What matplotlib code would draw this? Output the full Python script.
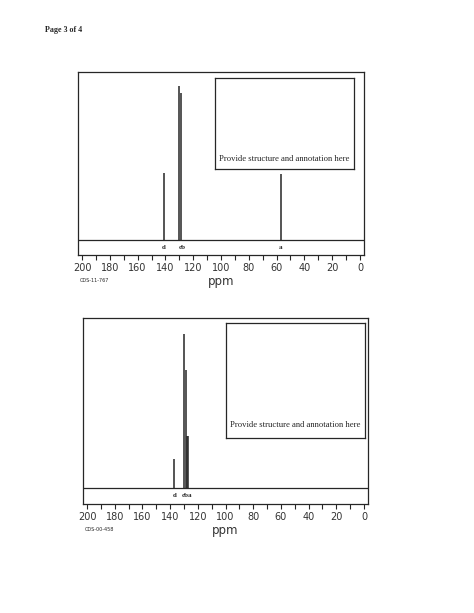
import matplotlib
matplotlib.use('Agg')
import matplotlib.pyplot as plt
import numpy as np

W, H = 474, 613

# spectrum 1 (CDS-11-767)
top_ppm = [140.8, 130.2, 129.0, 57.0]
top_int = [43.5, 100.0, 95.5, 43.0]
top_lab = ['d', 'cb', 'a']
top_lab_ppm = [141.0, 128.0, 57.0]

# spectrum 2 (CDS-00-458)
bot_ppm = [137.2, 130.0, 128.3, 127.9, 127.4]
bot_int = [18.8, 100.0, 76.6, 34.0, 34.0]
bot_lab = ['d', 'cba']
bot_lab_ppm = [137.0, 128.0]

ticks_major = np.arange(0, 201, 20)
ticks_minor = np.arange(0, 201, 10)
ink = '#262626'


def px_axes(fig, left, top, right, bottom):
    return fig.add_axes([left / W, 1 - bottom / H, (right - left) / W, (bottom - top) / H])


def spectrum(fig, box, ppm, inten, labels, lab_ppm, ylim, code, note_box):
    ax = px_axes(fig, *box)
    ax.vlines(ppm, 0, inten, color=ink, lw=1.1)
    ax.axhline(0, color=ink, lw=0.9)
    for s, x in zip(labels, lab_ppm):
        ax.text(x, ylim[0] * 0.5, s, ha='center', va='center', fontsize=5,
                family='Liberation Serif', weight='bold', color=ink)
    ax.set_xlim(202.9, -2.9)
    ax.set_ylim(*ylim)
    ax.set_yticks([])
    ax.set_xticks(ticks_major)
    ax.set_xticks(ticks_minor, minor=True)
    ax.tick_params(axis='x', which='both', direction='out', length=3.5, width=0.8,
                   color=ink, labelsize=7, labelcolor='#333333', pad=2)
    ax.set_xlabel('ppm', fontsize=8.5, color='#333333', labelpad=2)
    for sp in ax.spines.values():
        sp.set_color(ink)
        sp.set_linewidth(0.9)
    ax.text(0.005, -0.125, code, transform=ax.transAxes, fontsize=3.5, color=ink,
            family='DejaVu Sans', va='top')

    nb = px_axes(fig, *note_box)
    nb.set_xticks([])
    nb.set_yticks([])
    for sp in nb.spines.values():
        sp.set_color(ink)
        sp.set_linewidth(0.9)
    nb.text(0.5, 0.11, 'Provide structure and annotation here', transform=nb.transAxes,
            ha='center', va='center', fontsize=6.2, family='Liberation Serif', color=ink)


fig = plt.figure(figsize=(W / 100, H / 100), dpi=100)
fig.text(45 / W, 1 - 30 / H, 'Page 3 of 4', fontsize=5.8, family='Liberation Serif',
         weight='bold', color=ink, va='center')

spectrum(fig, (78, 72, 364, 255), top_ppm, top_int, top_lab, top_lab_ppm,
         (-9.7, 109.0), 'CDS-11-767', (215, 78, 354, 169))
spectrum(fig, (83, 318, 368, 504), bot_ppm, bot_int, bot_lab, bot_lab_ppm,
         (-10.4, 110.4), 'CDS-00-458', (226, 323, 365, 438))

fig.savefig('out.png', dpi=100, facecolor='white')
